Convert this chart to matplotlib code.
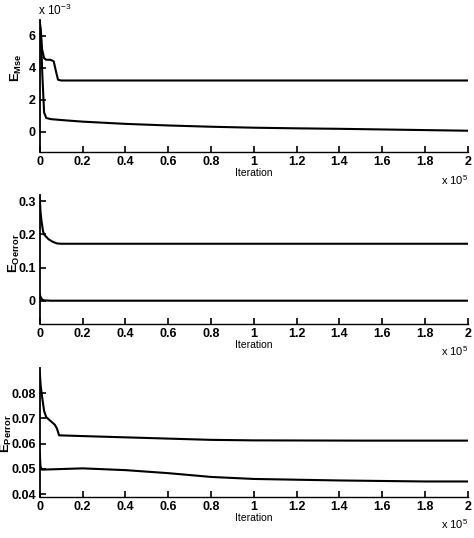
import matplotlib
matplotlib.use("Agg")
from matplotlib import pyplot as plt

plt.rcParams['font.family'] = ['Liberation Sans', 'DejaVu Sans']
plt.rcParams['mathtext.fontset'] = 'custom'
plt.rcParams['mathtext.rm'] = 'Liberation Sans'
plt.rcParams['mathtext.bf'] = 'Liberation Sans:bold'

# iteration axis in units of 1e5
mse_hi_x = [0, 0.005, 0.01, 0.02, 0.03, 0.05, 0.065, 0.075, 0.085, 0.1, 0.5, 1.0, 1.5, 2.0]
mse_hi_y = [6.8, 6.3, 5.2, 4.6, 4.5, 4.5, 4.4, 3.8, 3.25, 3.2, 3.2, 3.2, 3.2, 3.2]  # x 1e-3
mse_lo_x = [0, 0.005, 0.012, 0.02, 0.03, 0.05, 0.1, 0.2, 0.4, 0.6, 0.8, 1.0, 1.2, 1.4, 1.6, 1.8, 2.0]
mse_lo_y = [6.9, 6.0, 3.5, 1.2, 0.85, 0.78, 0.72, 0.62, 0.48, 0.38, 0.3, 0.24, 0.2, 0.17, 0.13, 0.09, 0.05]

oe_hi_x = [0, 0.003, 0.008, 0.015, 0.02, 0.04, 0.06, 0.08, 0.1, 0.5, 1.0, 1.5, 2.0]
oe_hi_y = [0.31, 0.27, 0.24, 0.21, 0.20, 0.186, 0.178, 0.173, 0.172, 0.172, 0.172, 0.172, 0.172]
oe_lo_x = [0, 0.003, 0.01, 0.02, 0.05, 0.5, 1.0, 1.5, 2.0]
oe_lo_y = [0.02, 0.012, 0.004, 0.001, 0.0, 0.0, 0.0, 0.0, 0.0]

pe_hi_x = [0, 0.004, 0.01, 0.02, 0.03, 0.05, 0.07, 0.08, 0.09, 0.2, 0.4, 0.6, 0.8, 1.0, 1.5, 2.0]
pe_hi_y = [0.088, 0.083, 0.079, 0.073, 0.0705, 0.069, 0.0675, 0.066, 0.0633, 0.063, 0.0625, 0.062, 0.0615, 0.0613, 0.0612, 0.0612]
pe_lo_x = [0, 0.003, 0.01, 0.05, 0.2, 0.4, 0.6, 0.8, 1.0, 1.2, 1.4, 1.6, 1.8, 2.0]
pe_lo_y = [0.056, 0.051, 0.0497, 0.0498, 0.0502, 0.0495, 0.0483, 0.0468, 0.046, 0.0457, 0.0454, 0.0452, 0.045, 0.045]

xticks = [0, 0.2, 0.4, 0.6, 0.8, 1, 1.2, 1.4, 1.6, 1.8, 2]
xticklabels = ['0', '0.2', '0.4', '0.6', '0.8', '1', '1.2', '1.4', '1.6', '1.8', '2']

panels = [
    dict(rect=[0.084, 0.717, 0.903, 0.246], lines=[(mse_hi_x, mse_hi_y), (mse_lo_x, mse_lo_y)],
         ylim=(-1.3, 7.0), yticks=[0, 2, 4, 6], ylabels=['0', '2', '4', '6'],
         ylabel=r'$\mathbf{E}_{\mathbf{Mse}}$', labpos=(-0.037, 0.64)),
    dict(rect=[0.084, 0.398, 0.903, 0.240], lines=[(oe_hi_x, oe_hi_y), (oe_lo_x, oe_lo_y)],
         ylim=(-0.07, 0.32), yticks=[0, 0.1, 0.2, 0.3], ylabels=['0', '0.1', '0.2', '0.3'],
         ylabel=r'$\mathbf{E}_{\mathbf{Oerror}}$', labpos=(-0.042, 0.55)),
    dict(rect=[0.084, 0.076, 0.903, 0.240], lines=[(pe_hi_x, pe_hi_y), (pe_lo_x, pe_lo_y)],
         ylim=(0.0388, 0.09), yticks=[0.04, 0.05, 0.06, 0.07, 0.08], ylabels=['0.04', '0.05', '0.06', '0.07', '0.08'],
         ylabel=r'$\mathbf{E}_{\mathbf{Perror}}$', labpos=(-0.06, 0.49)),
]

fig = plt.figure(figsize=(4.74, 5.38), dpi=100)
for p in panels:
    ax = fig.add_axes(p['rect'])
    for x, y in p['lines']:
        ax.plot(x, y, color='black', lw=1.5)
    ax.set_xlim(0, 2)
    ax.set_ylim(*p['ylim'])
    ax.set_xticks(xticks)
    ax.set_xticklabels(xticklabels)
    ax.set_yticks(p['yticks'])
    ax.set_yticklabels(p['ylabels'])
    ax.spines['top'].set_visible(False)
    ax.spines['right'].set_visible(False)
    ax.spines['left'].set_linewidth(1.3)
    ax.spines['bottom'].set_linewidth(1.0)
    ax.tick_params(direction='in', length=4, width=1.2, labelsize=9, pad=3)
    for lab in ax.get_xticklabels() + ax.get_yticklabels():
        lab.set_fontweight('bold')
    ax.set_xlabel('Iteration', fontsize=7.5, labelpad=0)
    ax.set_ylabel(p['ylabel'], fontsize=9.5)
    ax.yaxis.set_label_coords(*p['labpos'])
    ax.text(1.0, -0.21, r'x 10$^{5}$', transform=ax.transAxes, ha='right', va='center', fontsize=8)

fig.text(0.08, 0.98, r'x 10$^{-3}$', ha='left', va='center', fontsize=8.5)

fig.savefig('out.png', dpi=100)
